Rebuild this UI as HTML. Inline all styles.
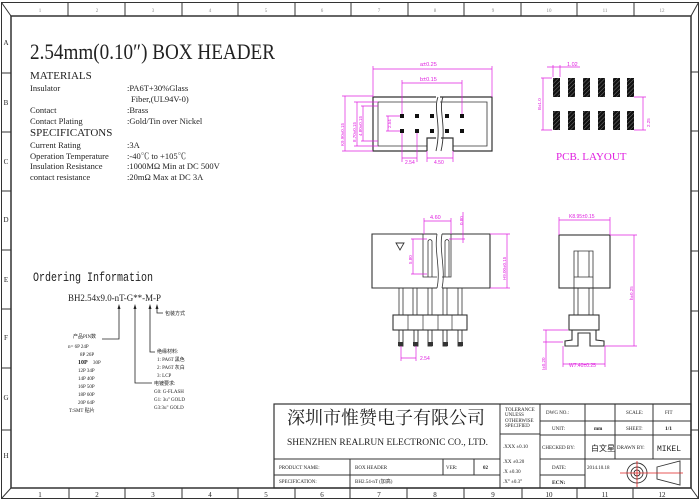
<!DOCTYPE html>
<html><head><meta charset="utf-8"><style>
html,body{margin:0;padding:0;background:#fff;}
svg{display:block;font-family:"Liberation Serif","Noto Serif CJK SC","Noto Sans CJK SC",serif;fill:#222;}
.m{fill:#e020e0;font-family:"Liberation Sans",sans-serif;font-size:5.5px;}
.m text{fill:#e020e0;}
.t{font-size:5px;font-family:"Liberation Serif","Noto Sans CJK SC",serif;fill:#222;}
.mono{font-family:"Liberation Mono","Noto Sans CJK SC",monospace;}
</style></head><body>
<svg width="700" height="500" viewBox="0 0 700 500" xmlns="http://www.w3.org/2000/svg">
<defs>
<pattern id="h" width="3" height="3" patternUnits="userSpaceOnUse" patternTransform="rotate(45)">
<rect width="3" height="3" fill="#111"/><line x1="0" y1="0" x2="0" y2="3" stroke="#777" stroke-width="1"/></pattern>
</defs>
<g fill="none" stroke="#333" stroke-width="1">
<rect x="1.5" y="2.5" width="697" height="496"/>
<rect x="11" y="16" width="680" height="472" stroke-width="1.5"/>
<line x1="1.5" y1="2.5" x2="11" y2="16"/><line x1="698.5" y1="2.5" x2="691" y2="16"/>
<line x1="1.5" y1="498.5" x2="11" y2="488"/><line x1="698.5" y1="498.5" x2="691" y2="488"/>
<path d="M68 2.5V16M125 2.5V16M182 2.5V16M238 2.5V16M295 2.5V16M351 2.5V16M408 2.5V16M464 2.5V16M521 2.5V16M577 2.5V16M634 2.5V16"/>
<path d="M69 488V498.5M125 488V498.5M182 488V498.5M238 488V498.5M295 488V498.5M350 488V498.5M407 488V498.5M464 488V498.5M522 488V498.5M577 488V498.5M633 488V498.5"/>
<path d="M1.5 73H11M1.5 132H11M1.5 191H11M1.5 250H11M1.5 309H11M1.5 368H11M1.5 430H11"/>
<path d="M691 72H698.5M691 131H698.5M691 191H698.5M691 251H698.5M691 311H698.5M691 371H698.5M691 430H698.5"/>
</g>
<g font-size="7" text-anchor="middle">
<text x="6" y="45">A</text><text x="6" y="105">B</text><text x="6" y="164">C</text><text x="6" y="222">D</text><text x="6" y="282">E</text><text x="6" y="340">F</text><text x="6" y="400">G</text><text x="6" y="458">H</text>
<text x="40" y="497">1</text><text x="97" y="497">2</text><text x="153" y="497">3</text><text x="210" y="497">4</text><text x="266" y="497">5</text><text x="322" y="497">6</text><text x="379" y="497">7</text><text x="435" y="497">8</text><text x="493" y="497">9</text><text x="549" y="497">10</text><text x="605" y="497">11</text><text x="662" y="497">12</text>
</g>
<g font-size="5" text-anchor="middle" fill="#888">
<text x="40" y="12">1</text><text x="97" y="12">2</text><text x="153" y="12">3</text><text x="210" y="12">4</text><text x="266" y="12">5</text><text x="322" y="12">6</text><text x="379" y="12">7</text><text x="435" y="12">8</text><text x="493" y="12">9</text><text x="549" y="12">10</text><text x="605" y="12">11</text><text x="662" y="12">12</text>
</g>

<text x="30" y="59" font-size="22" textLength="245" lengthAdjust="spacingAndGlyphs">2.54mm(0.10″) BOX HEADER</text>
<g font-size="8.5">
<text x="30" y="79" font-size="11">MATERIALS</text>
<text x="30" y="91">Insulator</text><text x="127" y="91">:PA6T+30%Glass</text>
<text x="131" y="102">Fiber,(UL94V-0)</text>
<text x="30" y="113">Contact</text><text x="127" y="113">:Brass</text>
<text x="30" y="124">Contact Plating</text><text x="127" y="124">:Gold/Tin over Nickel</text>
<text x="30" y="136" font-size="11">SPECIFICATONS</text>
<text x="30" y="148">Current Rating</text><text x="127" y="148">:3A</text>
<text x="30" y="159">Operation Temperature</text><text x="127" y="159">:-40℃ to +105℃</text>
<text x="30" y="169">Insulation Resistance</text><text x="127" y="169">:1000MΩ  Min at DC 500V</text>
<text x="30" y="180">contact resistance</text><text x="127" y="180">:20mΩ  Max  at DC 3A</text>
</g>

<text x="33" y="281" font-size="12.5" class="mono" textLength="120" lengthAdjust="spacingAndGlyphs">Ordering Information</text>
<text x="68" y="301" font-size="9.5" textLength="93" lengthAdjust="spacingAndGlyphs">BH2.54x9.0-nT-G**-M-P</text>
<g stroke="#222" stroke-width="0.8" fill="none">
<path d="M119 306V339H102M135 306V383H152M150 306V352H155M157 306V313H163"/>
</g>
<g fill="#222"><path d="M117.5 309L119 304L120.5 309Z"/><path d="M133.5 309L135 304L136.5 309Z"/><path d="M148.5 309L150 304L151.5 309Z"/><path d="M155.5 309L157 304L158.5 309Z"/></g>
<g class="t">
<text x="165" y="315">包装方式</text>
<text x="73" y="338">产品PIN数</text>
<text x="68" y="348">n= 6P  24P</text><text x="80" y="356">8P  26P</text>
<text x="78" y="364" font-weight="bold" font-size="6">10P</text><text x="93" y="364">30P</text>
<text x="78" y="372">12P  34P</text><text x="78" y="380">14P  40P</text><text x="78" y="388">16P  50P</text><text x="78" y="396">18P  60P</text><text x="78" y="404">20P  64P</text>
<text x="69" y="412">T:SMT 贴片</text>
<text x="157" y="353">绝缘材料:</text><text x="157" y="361">1: PA6T 黑色</text><text x="157" y="369">2: PA6T 灰白</text><text x="157" y="377">3: LCP</text>
<text x="154" y="385">电镀要求:</text><text x="154" y="393">G0: G-FLASH</text><text x="154" y="401">G1: 3u" GOLD</text><text x="154" y="409">G3:3u" GOLD</text>
</g>

<g stroke="#333" fill="none" stroke-width="1.2">
<path d="M436 97H373V151H427M453 151H492V97H440"/>
<path d="M436 102H378V146H427M453 146H487V102H440" stroke-width="0.8"/>
<path d="M427 151V138H436M453 151V138H441"/>
<path d="M438 97C433 110 442 125 436 151M443 97C438 110 447 125 441 151" stroke-width="0.9"/>
</g>
<g fill="#111">
<rect x="400" y="114" width="4" height="4"/><rect x="415" y="114" width="4" height="4"/><rect x="430" y="114" width="4" height="4"/><rect x="445" y="114" width="4" height="4"/><rect x="460" y="114" width="4" height="4"/>
<rect x="400" y="129" width="4" height="4"/><rect x="415" y="129" width="4" height="4"/><rect x="430" y="129" width="4" height="4"/><rect x="445" y="129" width="4" height="4"/><rect x="460" y="129" width="4" height="4"/>
</g>
<g stroke="#e020e0" fill="none" stroke-width="0.7">
<path d="M373 97V66M492 97V66M373 69H492M402 114V80M462 114V80M402 83H462"/>
<path d="M373 96H342M373 151H342M345 96V151M378 102H354M378 146H354M357 102V146M378 106H361M378 141H361M363 106V141"/>
<path d="M400 116H386M400 131H386M388 116V131"/>
<path d="M402 133V162M417 133V162M402 158H417M427 151V162M453 151V162M427 158H453"/>
</g>
<g class="m">
<text x="420" y="66">a±0.25</text><text x="420" y="81">b±0.15</text>
<text x="405" y="164" font-size="5">2.54</text><text x="434" y="164" font-size="5">4.50</text>
<text transform="translate(344,146) rotate(-90)" font-size="4.5">K9.90±0.15</text>
<text transform="translate(356,142) rotate(-90)" font-size="4.5">8.70±0.15</text>
<text transform="translate(362,136) rotate(-90)" font-size="4.5">4.80±0.15</text>
<text transform="translate(391,128) rotate(-90)" font-size="4.5">2.54</text>
</g>

<g fill="url(#h)">
<rect x="553" y="78" width="7" height="19"/><rect x="568" y="78" width="7" height="19"/><rect x="583" y="78" width="7" height="19"/><rect x="598" y="78" width="7" height="19"/><rect x="613" y="78" width="7" height="19"/><rect x="627" y="78" width="7" height="19"/>
<rect x="553" y="111" width="7" height="19"/><rect x="568" y="111" width="7" height="19"/><rect x="583" y="111" width="7" height="19"/><rect x="598" y="111" width="7" height="19"/><rect x="613" y="111" width="7" height="19"/><rect x="627" y="111" width="7" height="19"/>
</g>
<g stroke="#e020e0" fill="none" stroke-width="0.7">
<path d="M553 77V65M560 77V65M547 67H580M552 78H541M552 130H541M543 78V130M634 97H646M634 130H646M643 97V130"/>
</g>
<g class="m"><text x="567" y="66">1.02</text>
<text transform="translate(541,110) rotate(-90)" font-size="4.5">B±1.0</text>
<text transform="translate(650,127) rotate(-90)" font-size="4.5">2.25</text>
<text x="556" y="160" style="font-size:11px;font-family:'Liberation Serif',serif">PCB. LAYOUT</text></g>

<g stroke="#333" fill="none" stroke-width="1.1">
<path d="M437 234H372V288H437M442 234H490V288H442"/>
<path d="M437 234C434 250 441 270 437 288M442 234C439 250 446 270 442 288" stroke-width="0.8"/>
<path d="M423 234V277H437M451 234V277H442M428 277V241Q430 238 432 241V277M445 277V241Q447 238 449 241V277" stroke-width="0.8"/>
<path d="M396 243H404L400 250Z" stroke-width="0.9"/>
<path d="M399 288V315M403 288V315M413 288V315M417 288V315M428 288V315M432 288V315M443 288V315M447 288V315M458 288V315M462 288V315" stroke-width="0.8"/>
<rect x="393" y="315" width="74" height="15"/>
<path d="M408 315V330M423 315V330M438 315V330M452 315V330" stroke-width="0.7"/>
<path d="M399 330V346H403V330M414 330V346H418V330M428 330V346H432V330M443 330V346H447V330M458 330V346H462V330" stroke-width="0.9"/>
</g>
<g fill="#333"><rect x="398" y="342" width="5" height="4"/><rect x="413" y="342" width="5" height="4"/><rect x="428" y="342" width="5" height="4"/><rect x="443" y="342" width="5" height="4"/><rect x="458" y="342" width="5" height="4"/></g>
<g stroke="#e020e0" fill="none" stroke-width="0.7">
<path d="M424 234V218M451 234V218M424 221H451M463 212V243M449 239H465M427 239H411M427 274H411M413 239V274M490 234H510M490 288H510M507 234V288M401 346V361M416 346V361M401 358H416"/>
</g>
<g class="m"><text x="430" y="219">4.60</text><text x="420" y="360" font-size="5">2.54</text>
<text transform="translate(463,225) rotate(-90)" font-size="4.5">0.80</text>
<text transform="translate(412,264) rotate(-90)" font-size="4.5">5.80</text>
<text transform="translate(506,280) rotate(-90)" font-size="4.5">H9.00±0.15</text></g>

<g stroke="#333" fill="none" stroke-width="1.1">
<rect x="559" y="235" width="51" height="53"/>
<path d="M574 288V251H593V288M574 277H593M578 251V277M589 251V277" stroke-width="0.8"/>
<path d="M574 288V315M593 288V315M578 288V315M589 288V315" stroke-width="0.8"/>
<rect x="569" y="315" width="30" height="15"/>
<path d="M572 330V340L565 341V346H578V333H590V346H604V341L596 340V330"/>
</g>
<g stroke="#e020e0" fill="none" stroke-width="0.7">
<path d="M559 235V217M610 235V217M559 220H610M610 235H637M605 346H637M634 235V346M568 330H543M563 342H543M546 330V370M563 346V367M605 346V367M563 364H605"/>
</g>
<g class="m"><text x="569" y="218" font-size="5">K8.95±0.15</text><text x="569" y="367" font-size="5">W7.40±0.25</text>
<text transform="translate(633,300) rotate(-90)" font-size="4.5">h±0.25</text>
<text transform="translate(545,370) rotate(-90)" font-size="4.5">I±0.20</text></g>

<g stroke="#333" fill="none" stroke-width="1">
<rect x="274" y="404" width="417" height="84" stroke-width="1.2"/>
<path d="M274 459H500M274 475H500M350 459V488M443 459V475M474 459V475M500 404V488"/>
<path d="M500 434H540M540 404V488M540 421H691M540 435H691M540 459H585M540 475H585M585 404V488M615 404V459M653 404V459M585 459H691"/>
</g>
<text x="287" y="424" font-size="18" font-family="Noto Serif CJK SC,serif" textLength="198" lengthAdjust="spacingAndGlyphs">深圳市惟赞电子有限公司</text>
<text x="287" y="445" font-size="9.5" textLength="201" lengthAdjust="spacingAndGlyphs">SHENZHEN REALRUN ELECTRONIC CO., LTD.</text>
<g class="t" font-size="4.5">
<text x="279" y="469">PRODUCT NAME:</text><text x="355" y="469">BOX HEADER</text><text x="446" y="469">VER:</text><text x="483" y="469" font-weight="bold">02</text>
<text x="279" y="483">SPECIFICATION:</text><text x="355" y="483">BH2.54-nT (加高)</text>
<text x="505" y="411">TOLERANCE</text><text x="505" y="416">UNLESS</text><text x="505" y="422">OTHERWISE</text><text x="505" y="427">SPECIFIED</text>
<text x="503" y="448">.XXX  ±0.10</text><text x="503" y="463">.XX   ±0.20</text><text x="503" y="473">.X    ±0.30</text><text x="503" y="483">.X°   ±0.3°</text>
<text x="546" y="414">DWG NO.:</text><text x="552" y="430">UNIT:</text><text x="542" y="449">CHECKED BY:</text><text x="552" y="469">DATE:</text><text x="552" y="484" font-weight="bold" font-size="5.5">ECN:</text>
<text x="594" y="430" font-weight="bold">mm</text><text x="587" y="469">2014.10.18</text>
<text x="626" y="414">SCALE:</text><text x="626" y="430">SHEET:</text><text x="617" y="449">DRAWN BY:</text>
<text x="665" y="414">FIT</text><text x="665" y="430" font-weight="bold" font-size="5.5">1/1</text>
</g>
<text x="591" y="451" font-size="8" font-family="Noto Sans CJK SC,sans-serif">白文星</text>
<text x="657" y="451" font-size="8" class="mono">MIKEL</text>
<g fill="none" stroke="#333" stroke-width="0.9">
<circle cx="637" cy="473" r="10"/><circle cx="637" cy="473" r="6"/><circle cx="637" cy="473" r="3"/>
<path d="M657 467L680 461V485L657 479Z"/>
</g>
<g stroke="#e02020" stroke-width="0.8"><path d="M620 473H683M637 461V487"/></g>
</svg>
</body></html>
